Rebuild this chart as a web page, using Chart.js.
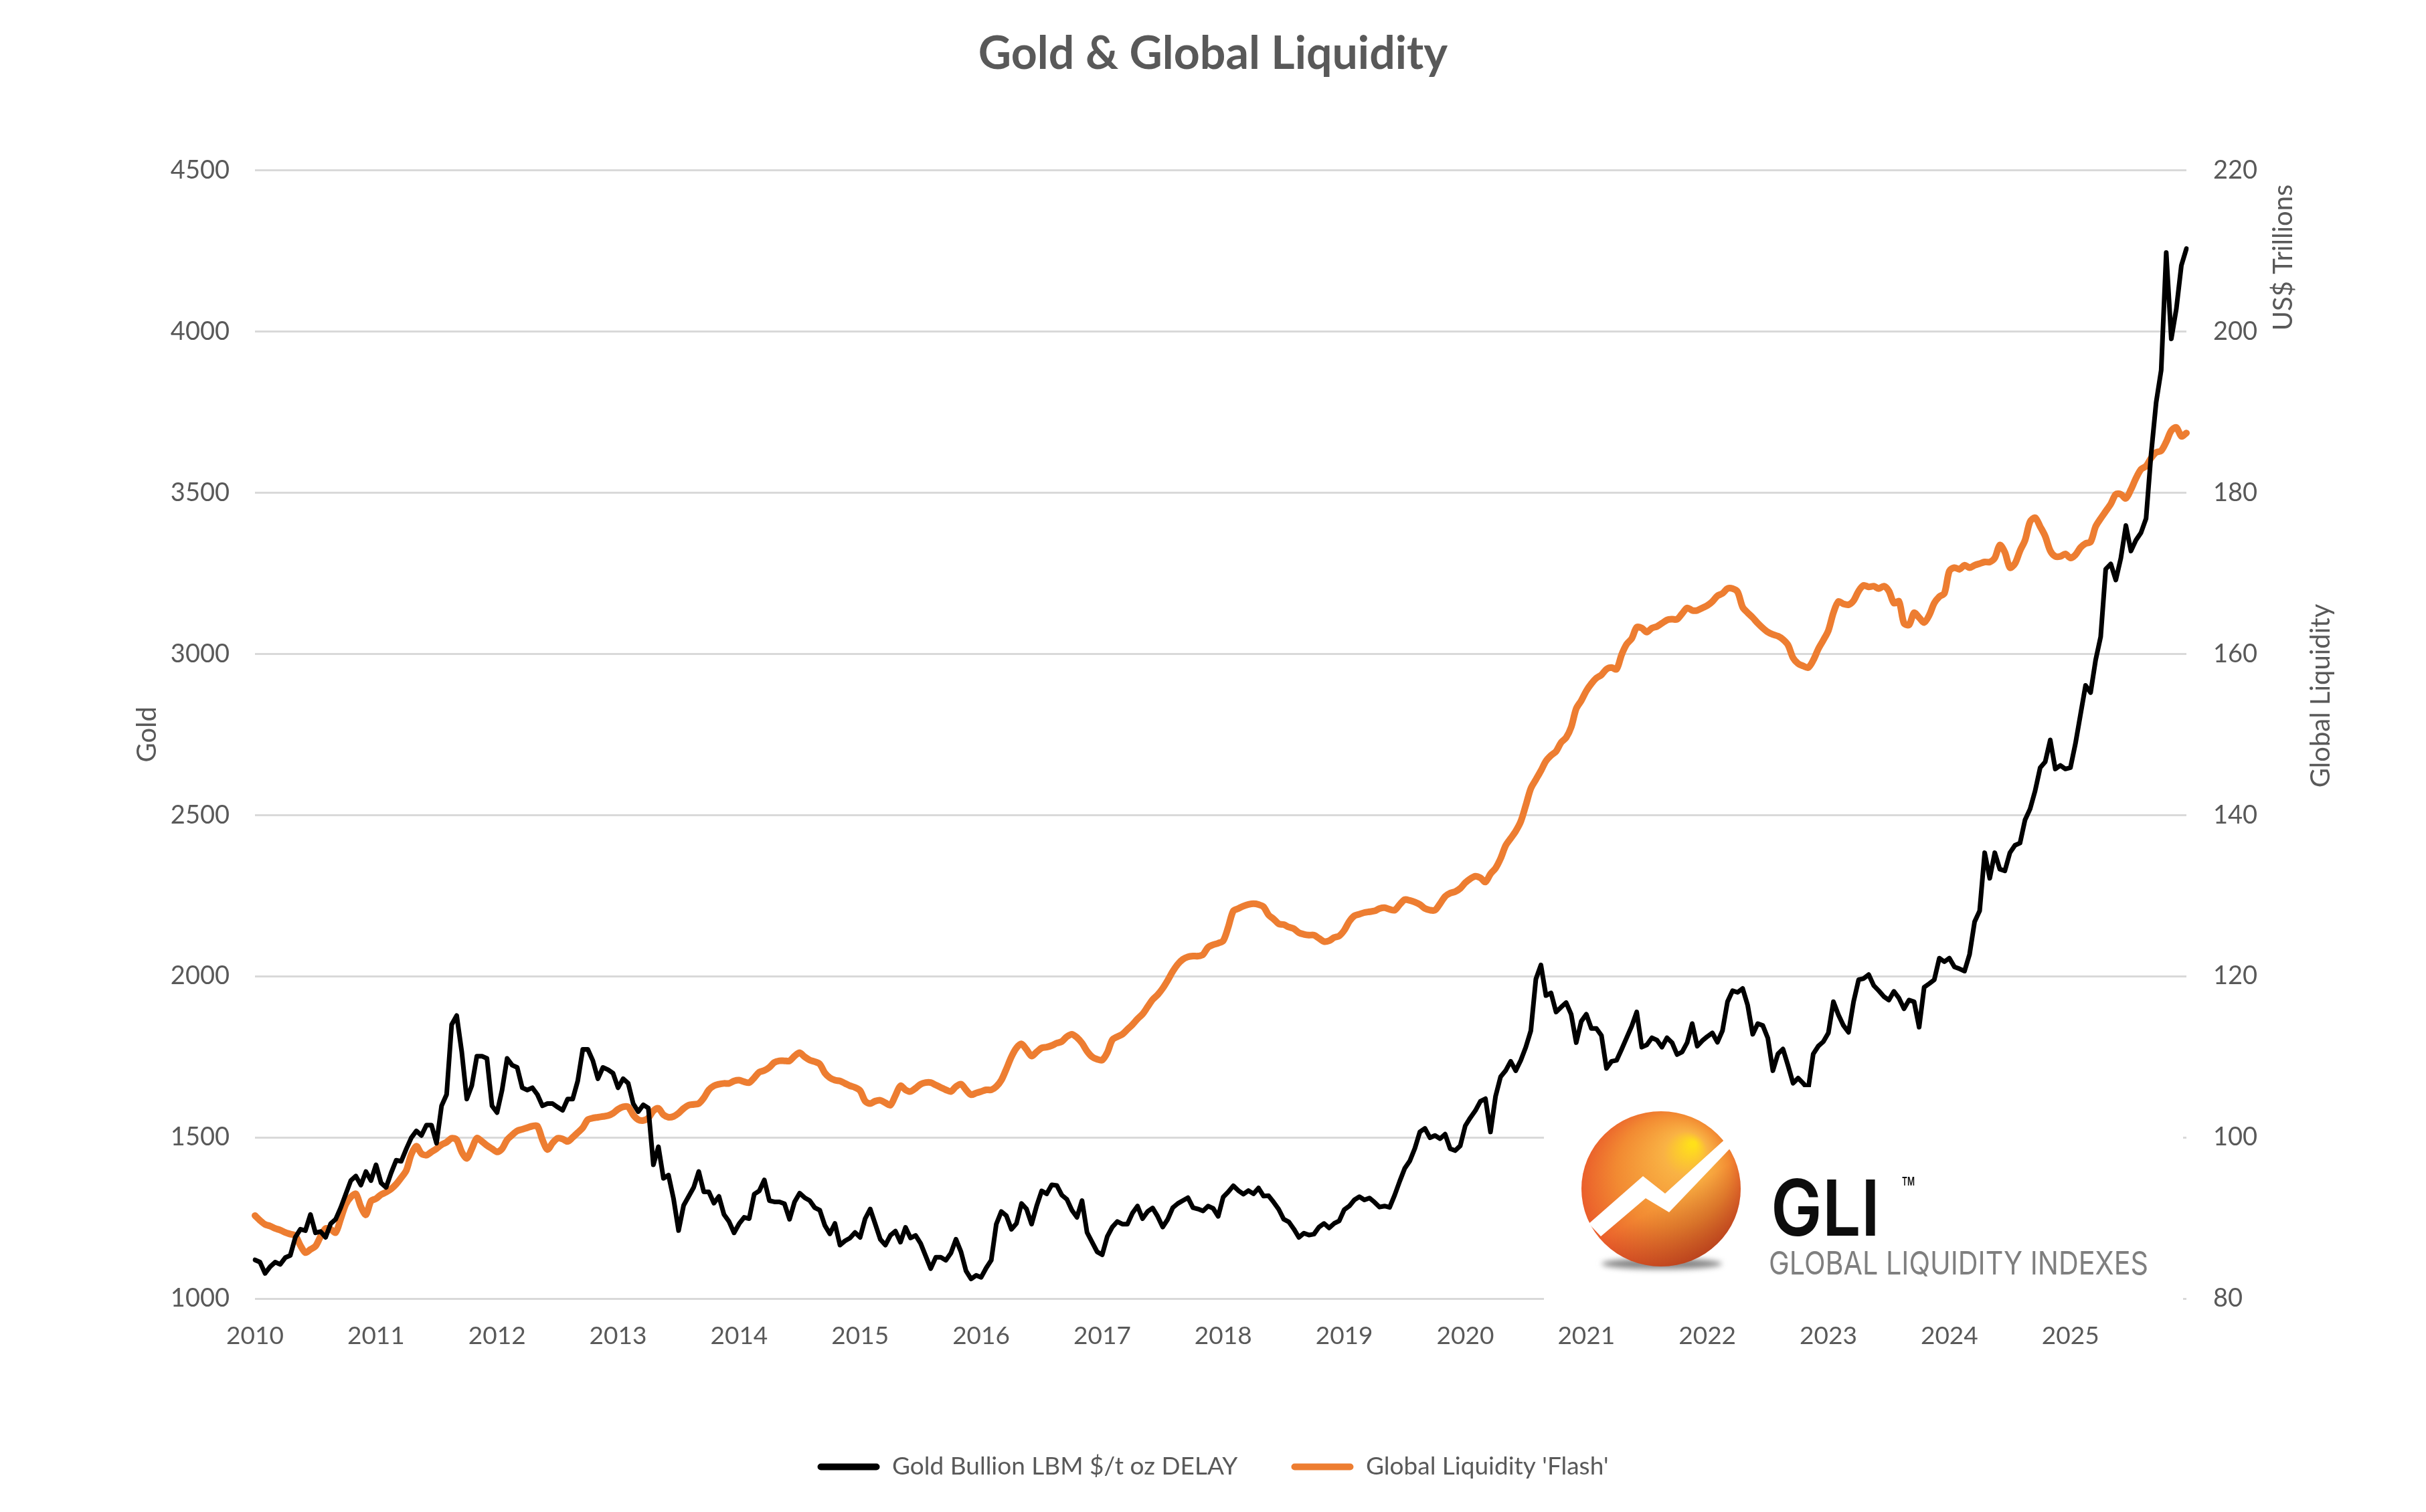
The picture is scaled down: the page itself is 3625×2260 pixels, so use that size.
<!DOCTYPE html>
<html lang="en">
<head>
  <meta charset="UTF-8">
  <title>Gold &amp; Global Liquidity</title>
  <script src="https://cdn.jsdelivr.net/npm/chart.js@4.4.1/dist/chart.umd.min.js"></script>
  <style>
    html, body { margin: 0; padding: 0; background: #fff; }
    canvas { display: block; }
  </style>
</head>
<body>
  <canvas id="chart" width="3625" height="2260"></canvas>
  <script>
    // half-monthly readings, Jan 2010 .. Dec 2025
    const years = [2010, 2011, 2012, 2013, 2014, 2015, 2016, 2017, 2018, 2019, 2020, 2021, 2022, 2023, 2024, 2025];
    const halfMonths = ['01-01', '01-16', '02-01', '02-15', '03-01', '03-16', '04-01', '04-16', '05-01', '05-16', '06-01', '06-16',
                        '07-01', '07-16', '08-01', '08-16', '09-01', '09-16', '10-01', '10-16', '11-01', '11-16', '12-01', '12-16'];

    // Gold Bullion LBM $/t oz DELAY
    const gold = [
      1120, 1113, 1078, 1099, 1113, 1106, 1127, 1134, 1190, 1215, 1211, 1261, 1204, 1208, 1190, 1232, 1246, 1282, 1324, 1366, 1380, 1352, 1394, 1366,
      1415, 1359, 1345, 1390, 1429, 1426, 1464, 1499, 1520, 1506, 1538, 1538, 1482, 1598, 1633, 1850, 1878, 1766, 1619, 1661, 1752, 1752, 1745, 1598,
      1577, 1647, 1745, 1724, 1717, 1654, 1647, 1654, 1633, 1598, 1605, 1605, 1594, 1584, 1619, 1619, 1675, 1773, 1773, 1738, 1682, 1717, 1710, 1699,
      1654, 1682, 1668, 1605, 1580, 1601, 1591, 1415, 1471, 1373, 1383, 1310, 1211, 1289, 1317, 1345, 1394, 1331, 1331, 1296, 1317, 1261, 1239, 1204,
      1232, 1252, 1248, 1324, 1334, 1368, 1304, 1300, 1300, 1294, 1246, 1300, 1327, 1313, 1304, 1282, 1274, 1227, 1201, 1233, 1166, 1179, 1188, 1205,
      1190, 1248, 1278, 1231, 1184, 1166, 1196, 1209, 1175, 1221, 1188, 1196, 1171, 1132, 1093, 1128, 1128, 1119, 1141, 1184, 1145, 1086, 1061, 1072,
      1066, 1095, 1119, 1231, 1270, 1257, 1215, 1233, 1295, 1278, 1231, 1287, 1334, 1325, 1353, 1351, 1321, 1308, 1274, 1252, 1304, 1205, 1175, 1145,
      1136, 1192, 1222, 1239, 1231, 1231, 1265, 1287, 1248, 1270, 1281, 1255, 1222, 1246, 1282, 1295, 1304, 1313, 1282, 1278, 1272, 1287, 1280, 1255,
      1315, 1331, 1350, 1335, 1324, 1335, 1325, 1343, 1318, 1319, 1299, 1277, 1246, 1238, 1216, 1190, 1203, 1197, 1200, 1222, 1233, 1219, 1233, 1241,
      1276, 1287, 1306, 1316, 1306, 1312, 1299, 1284, 1287, 1283, 1321, 1364, 1404, 1427, 1466, 1517, 1528, 1499, 1506, 1496, 1510, 1465, 1459, 1474,
      1536, 1561, 1583, 1612, 1620, 1517, 1627, 1688, 1707, 1736, 1707, 1739, 1780, 1831, 1991, 2035, 1940, 1948, 1889, 1904, 1918, 1882, 1794, 1860,
      1882, 1838, 1838, 1816, 1714, 1736, 1739, 1773, 1809, 1845, 1889, 1780, 1787, 1809, 1802, 1780, 1809, 1794, 1757, 1765, 1794, 1853, 1783, 1800,
      1813, 1824, 1795, 1831, 1921, 1955, 1950, 1962, 1910, 1820, 1853, 1847, 1808, 1707, 1759, 1774, 1723, 1668, 1684, 1668, 1650, 1759, 1783, 1797,
      1824, 1921, 1880, 1847, 1826, 1921, 1989, 1993, 2005, 1971, 1955, 1937, 1926, 1953, 1932, 1899, 1926, 1921, 1842, 1966, 1977, 1989, 2056, 2045,
      2056, 2029, 2023, 2016, 2068, 2169, 2203, 2383, 2304, 2383, 2332, 2327, 2383, 2406, 2413, 2485, 2519, 2575, 2647, 2665, 2733, 2643, 2654, 2643,
      2647, 2722, 2812, 2902, 2880, 2981, 3053, 3263, 3279, 3229, 3297, 3398, 3319, 3353, 3376, 3420, 3620, 3780, 3880, 4245, 3977, 4070, 4205, 4257
    ];

    // Global Liquidity 'Flash', US$ trillions
    const liquidity = [
      90.3, 89.7, 89.2, 89.0, 88.7, 88.5, 88.2, 88.0, 87.8, 86.6, 85.7, 86.1, 86.5, 87.7, 88.7, 88.6, 88.2, 89.9, 91.7, 92.6, 93.0, 91.4, 90.4, 92.1,
      92.4, 92.9, 93.2, 93.6, 94.2, 95.0, 95.9, 97.9, 98.9, 98.0, 97.8, 98.2, 98.6, 99.1, 99.4, 99.9, 99.7, 98.2, 97.4, 98.6, 99.9, 99.5, 99.0, 98.6,
      98.2, 98.6, 99.7, 100.3, 100.8, 101.0, 101.2, 101.4, 101.4, 99.7, 98.5, 99.3, 99.9, 99.8, 99.5, 100.0, 100.6, 101.2, 102.2, 102.4, 102.5, 102.6, 102.7, 103.0,
      103.5, 103.8, 103.8, 102.8, 102.2, 102.1, 102.4, 103.3, 103.6, 102.8, 102.5, 102.6, 103.0, 103.6, 104.0, 104.1, 104.2, 104.9, 105.9, 106.4, 106.6, 106.7, 106.7, 107.0,
      107.1, 106.9, 106.8, 107.4, 108.1, 108.3, 108.7, 109.3, 109.5, 109.5, 109.5, 110.1, 110.5, 110.0, 109.6, 109.4, 109.1, 108.0, 107.4, 107.1, 107.0, 106.7, 106.4, 106.2,
      105.8, 104.5, 104.2, 104.5, 104.6, 104.3, 104.0, 105.2, 106.4, 105.9, 105.7, 106.1, 106.6, 106.8, 106.8, 106.5, 106.2, 105.9, 105.7, 106.3, 106.6, 105.9, 105.3, 105.5,
      105.7, 105.9, 105.9, 106.3, 107.1, 108.5, 110.0, 111.1, 111.6, 110.9, 110.1, 110.6, 111.1, 111.2, 111.4, 111.7, 111.9, 112.5, 112.8, 112.4, 111.7, 110.7, 110.0, 109.7,
      109.6, 110.5, 112.1, 112.5, 112.8, 113.4, 114.0, 114.7, 115.3, 116.2, 117.1, 117.7, 118.5, 119.5, 120.6, 121.5, 122.1, 122.4, 122.5, 122.5, 122.7, 123.6, 123.9, 124.1,
      124.4, 126.1, 128.1, 128.4, 128.7, 128.9, 129.0, 128.9, 128.6, 127.6, 127.1, 126.5, 126.4, 126.1, 125.9, 125.4, 125.2, 125.1, 125.1, 124.7, 124.3, 124.4, 124.8, 125.0,
      125.7, 126.8, 127.5, 127.7, 127.9, 128.0, 128.1, 128.4, 128.5, 128.3, 128.2, 128.9, 129.5, 129.4, 129.2, 128.9, 128.4, 128.2, 128.2, 129.0, 129.9, 130.3, 130.5, 130.9,
      131.6, 132.1, 132.4, 132.2, 131.7, 132.7, 133.4, 134.6, 136.2, 137.1, 138.0, 139.2, 141.2, 143.3, 144.4, 145.5, 146.7, 147.4, 147.9, 149.0, 149.6, 150.9, 153.2, 154.2,
      155.4, 156.3, 157.0, 157.4, 158.1, 158.3, 158.1, 159.9, 161.2, 161.9, 163.3, 163.2, 162.7, 163.2, 163.4, 163.8, 164.2, 164.3, 164.3, 165.0, 165.7, 165.4, 165.4, 165.7,
      166.0, 166.5, 167.2, 167.5, 168.1, 168.1, 167.7, 165.8, 165.1, 164.5, 163.8, 163.2, 162.7, 162.4, 162.2, 161.8, 161.1, 159.5, 158.8, 158.5, 158.3, 159.2, 160.6, 161.7,
      162.9, 165.1, 166.5, 166.2, 166.1, 166.6, 167.8, 168.5, 168.3, 168.4, 168.1, 168.4, 167.8, 166.3, 166.5, 163.8, 163.6, 165.1, 164.5, 163.9, 164.8, 166.3, 167.1, 167.5,
      170.3, 170.7, 170.5, 171.0, 170.7, 171.0, 171.2, 171.4, 171.4, 171.9, 173.5, 172.6, 170.7, 171.2, 172.8, 174.1, 176.4, 176.9, 175.8, 174.6, 172.8, 172.1, 172.1, 172.4,
      171.9, 172.3, 173.2, 173.7, 173.9, 175.8, 176.8, 177.7, 178.6, 179.8, 179.8, 179.3, 180.4, 181.8, 182.9, 183.3, 184.3, 185.0, 185.2, 186.3, 187.7, 188.1, 187.0, 187.4
    ];

    const labels = years.flatMap(y => halfMonths.map(h => y + '-' + h));

    const chartTitle = 'Gold & Global Liquidity';
    const goldLabel = 'Gold Bullion LBM $/t oz DELAY';
    const liqLabel = "Global Liquidity 'Flash'";
    const leftTitle = 'Gold';
    const rightTitleUnits = 'US$ Trillions';
    const rightTitleName = 'Global Liquidity';

    const grey = '#595959';
    const fontFamily = 'Lato, "Open Sans", sans-serif';

    // right side titles (read bottom to top) and the GLI logo
    const extras = {
      id: 'extras',
      afterDatasetsDraw(chart) {
        const ctx = chart.ctx;
        ctx.save();
        // logo sits on a white box over the lower right of the plot
        ctx.fillStyle = '#ffffff';
        ctx.fillRect(2307, 1625, 955, 325);

        // shadow
        ctx.save();
        ctx.filter = 'blur(4px)';
        ctx.fillStyle = 'rgba(95, 95, 95, 0.75)';
        ctx.beginPath();
        ctx.ellipse(2483, 1889, 90, 8, 0, 0, Math.PI * 2);
        ctx.fill();
        ctx.restore();

        // orb
        const g = ctx.createRadialGradient(2530, 1710, 4, 2470, 1790, 165);
        g.addColorStop(0, '#ffe01a');
        g.addColorStop(0.18, '#f9b244');
        g.addColorStop(0.5, '#f28a32');
        g.addColorStop(0.78, '#e9572a');
        g.addColorStop(1, '#a8381a');
        ctx.fillStyle = g;
        ctx.beginPath();
        ctx.ellipse(2482, 1777, 119, 116, 0, 0, Math.PI * 2);
        ctx.fill();
        // darker rim low left
        const rim = ctx.createLinearGradient(2400, 1700, 2520, 1900);
        rim.addColorStop(0.55, 'rgba(120, 30, 10, 0)');
        rim.addColorStop(1, 'rgba(120, 30, 10, 0.45)');
        ctx.fillStyle = rim;
        ctx.fill();

        // white zigzag
        ctx.fillStyle = '#ffffff';
        ctx.beginPath();
        ctx.moveTo(2374, 1829);
        ctx.lineTo(2455, 1758);
        ctx.lineTo(2488, 1784);
        ctx.lineTo(2594, 1688);
        ctx.lineTo(2600, 1701);
        ctx.lineTo(2494, 1812);
        ctx.lineTo(2459, 1791);
        ctx.lineTo(2392, 1848);
        ctx.closePath();
        ctx.fill();

        // logo words, fitted to measured widths
        const fitText = (text, x, y, w, font, color) => {
          ctx.font = font;
          ctx.fillStyle = color;
          ctx.textAlign = 'left';
          ctx.textBaseline = 'alphabetic';
          const m = ctx.measureText(text).width;
          ctx.save();
          ctx.translate(x, y);
          ctx.scale(w / m, 1);
          ctx.fillText(text, 0, 0);
          ctx.restore();
        };
        fitText('GLI', 2646, 1847, 163, '600 116px Inter', '#0d0d0d');
        fitText('TM', 2842, 1772, 19, '600 17px Inter', '#0d0d0d');
        fitText('GLOBAL LIQUIDITY INDEXES', 2643, 1905, 567, '400 48px Inter', '#7f7f7f');
        ctx.restore();
      },
      afterDraw(chart) {
        const ctx = chart.ctx;
        ctx.save();
        ctx.fillStyle = grey;
        ctx.font = '40px ' + fontFamily;
        ctx.textAlign = 'center';
        ctx.textBaseline = 'middle';
        [[rightTitleUnits, 3412, 385], [rightTitleName, 3468, 1040]].forEach(([t, x, y]) => {
          ctx.save();
          ctx.translate(x, y);
          ctx.rotate(-Math.PI / 2);
          ctx.fillText(t, 0, 0);
          ctx.restore();
        });
        ctx.restore();
      }
    };

    const ctx = document.getElementById('chart').getContext('2d');
    new Chart(ctx, {
      type: 'line',
      data: {
        labels: labels,
        datasets: [
          {
            label: goldLabel,
            data: gold,
            yAxisID: 'yGold',
            borderColor: '#000000',
            backgroundColor: '#000000',
            borderWidth: 7,
            pointRadius: 0,
            tension: 0,
            borderJoinStyle: 'round',
            borderCapStyle: 'round',
            order: 0
          },
          {
            label: liqLabel,
            data: liquidity,
            yAxisID: 'yLiq',
            borderColor: '#ed7d31',
            backgroundColor: '#ed7d31',
            borderWidth: 10,
            pointRadius: 0,
            tension: 0.3,
            borderJoinStyle: 'round',
            borderCapStyle: 'round',
            order: 1
          }
        ]
      },
      options: {
        responsive: false,
        animation: false,
        devicePixelRatio: 1,
        layout: { padding: { top: 0, left: 0, right: 0, bottom: 39 } },
        plugins: {
          title: {
            display: true,
            text: chartTitle,
            color: grey,
            font: { family: fontFamily, size: 68, weight: 'bold' },
            padding: { top: 40, bottom: 133 }
          },
          legend: {
            position: 'bottom',
            labels: {
              color: grey,
              font: { family: fontFamily, size: 37 },
              boxWidth: 93,
              boxHeight: 10,
              padding: 80,
              useBorderRadius: true,
              borderRadius: 5,
              generateLabels(chart) {
                return chart.data.datasets.map((d, i) => ({
                  text: d.label,
                  fillStyle: d.borderColor,
                  strokeStyle: d.borderColor,
                  lineWidth: 0,
                  fontColor: grey,
                  borderRadius: 5,
                  datasetIndex: i
                }));
              }
            }
          },
          tooltip: { enabled: false }
        },
        scales: {
          x: {
            type: 'category',
            grid: { display: false, drawTicks: false },
            border: { display: false },
            ticks: {
              autoSkip: false,
              maxRotation: 0,
              color: grey,
              font: { family: fontFamily, size: 37 },
              padding: 34,
              callback(value) {
                const lab = labels[value];
                return lab.endsWith('-01-01') ? lab.slice(0, 4) : null;
              }
            },
            afterFit(scale) { scale.height = 153; }
          },
          yGold: {
            position: 'left',
            min: 1000,
            max: 4500,
            ticks: {
              stepSize: 500,
              color: grey,
              font: { family: fontFamily, size: 38 },
              padding: 38,
              callback: (v) => String(v)
            },
            grid: { color: '#d9d9d9', lineWidth: 3, drawTicks: false },
            border: { display: false },
            title: {
              display: true,
              text: leftTitle,
              color: grey,
              font: { family: fontFamily, size: 40 },
              padding: { top: 196, bottom: 0 }
            },
            afterFit(scale) { scale.width = 381; }
          },
          yLiq: {
            position: 'right',
            min: 80,
            max: 220,
            ticks: {
              stepSize: 20,
              color: grey,
              font: { family: fontFamily, size: 38 },
              padding: 40,
              callback: (v) => String(v)
            },
            grid: { display: false, drawTicks: false },
            border: { display: false },
            afterFit(scale) { scale.width = 358; }
          }
        }
      },
      plugins: [extras]
    });
  </script>
</body>
</html>
